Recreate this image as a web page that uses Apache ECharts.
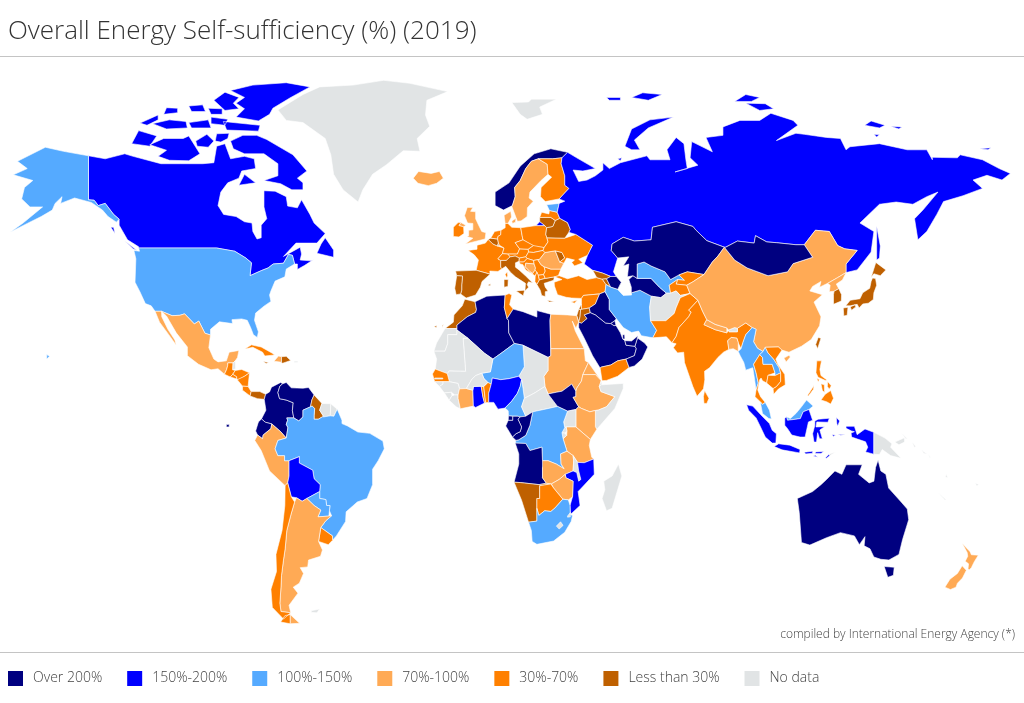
<!DOCTYPE html>
<html>
<head>
<meta charset="utf-8">
<title>Overall Energy Self-sufficiency</title>
<script src="https://cdn.jsdelivr.net/npm/echarts@6/dist/echarts.min.js"></script>
<style>
  html, body { margin: 0; padding: 0; background: #fff; }
  #chart { width: 1024px; height: 703px; }
</style>
</head>
<body>
<div id="chart"></div>
<script>
const legendLabels = ['Over 200%', '150%-200%', '100%-150%', '70%-100%', '30%-70%', 'Less than 30%', 'No data'];
const legendColors = ['#000080', '#0000ff', '#55aaff', '#ffaa55', '#ff8000', '#bf6000', '#e1e4e5'];

const over200 = ['Norway', 'Kazakhstan', 'Turkmenistan', 'Mongolia', 'Azerbaijan', 'Algeria', 'Libya', 'Iraq',
  'Saudi Arabia', 'Kuwait', 'Qatar', 'United Arab Emirates', 'Oman', 'South Sudan', 'Congo', 'Gabon',
  'Equatorial Guinea', 'Angola', 'Colombia', 'Venezuela', 'Ecuador', 'Australia'];
const from150to200 = ['Canada', 'Russia', 'Indonesia', 'Nigeria', 'Bolivia', 'Mozambique', 'Ghana'];
const from100to150 = ['United States', 'Brazil', 'Paraguay', 'Iran', 'Uzbekistan', 'Malaysia', 'Myanmar', 'Laos',
  'Niger', 'Cameroon', 'DR Congo', 'South Africa', 'Estonia'];
const from70to100 = ['China', 'Mexico', 'Peru', 'Argentina', 'Sweden', 'United Kingdom', 'Denmark', 'Romania',
  'Iceland', 'Bosnia', 'New Zealand', 'Egypt', 'Sudan', 'Eritrea', 'Ethiopia', 'Kenya', 'Tanzania', 'Ivory Coast',
  'Zambia', 'Zimbabwe', 'Haiti', 'Bangladesh', 'Nepal', 'North Korea'];
const from30to70 = ['Finland', 'France', 'Germany', 'Poland', 'Ukraine', 'Czechia', 'Austria', 'Hungary', 'Slovakia',
  'Slovenia', 'Netherlands', 'Ireland', 'Latvia', 'Serbia', 'Croatia', 'Bulgaria', 'Albania', 'North Macedonia',
  'Montenegro', 'Switzerland', 'Turkey', 'Syria', 'Tunisia', 'Yemen', 'India', 'Pakistan', 'Vietnam', 'Thailand',
  'Cambodia', 'Philippines', 'Sri Lanka', 'Kyrgyzstan', 'Tajikistan', 'Senegal', 'Togo', 'Benin', 'Botswana',
  'Chile', 'Uruguay', 'Cuba', 'Guatemala', 'Honduras', 'Nicaragua', 'Costa Rica', 'El Salvador', 'Cyprus'];
const under30 = ['Spain', 'Portugal', 'Italy', 'Belarus', 'Lithuania', 'Moldova', 'Belgium', 'Luxembourg', 'Greece',
  'Georgia', 'Armenia', 'Lebanon', 'Israel', 'Jordan', 'Morocco', 'Namibia', 'Japan', 'South Korea', 'Taiwan',
  'Guyana', 'Panama', 'Jamaica', 'Dominican Republic'];
const noData = ['Greenland', 'Svalbard', 'Afghanistan', 'Bhutan', 'Mauritania', 'Western Sahara', 'Mali', 'Burkina Faso',
  'Guinea', 'Guinea-Bissau', 'Gambia', 'Sierra Leone', 'Liberia', 'Chad', 'Central African Republic', 'Uganda',
  'Rwanda', 'Burundi', 'Somalia', 'Djibouti', 'Malawi', 'Madagascar', 'Lesotho', 'Eswatini', 'Papua New Guinea',
  'Solomon Islands', 'Fiji', 'Vanuatu', 'New Caledonia', 'Suriname', 'French Guiana', 'Belize', 'Puerto Rico',
  'Falkland Islands', 'Timor-Leste'];
const classLists = [over200, from150to200, from100to150, from70to100, from30to70, under30, noData];

// rough country outlines, lon,lat
const worldShapes = {
  'Canada': [
    '-141,69.6 -135,69 -128,70 -125,69.5 -115,68 -108,68 -100,68 -96,68.2 -95,71.5 -92,72 -90,69 -85,69.5 -81.5,69 -81,67 -86,66.5 -87,65 -91,64 -93.5,62 -94.5,59 -92.5,57 -88,56.5 -85,55.3 -82.3,55 -82,53 -80.5,51.2 -79,51.5 -79,54.5 -77,56 -78,58.7 -78,62.3 -74,62.2 -70,61 -69.5,58.9 -66,58.5 -64.5,60.3 -61.5,57 -60,55 -56,52.5 -59,50.2 -66.5,50.2 -71,46.9 -65,49.2 -64.5,47.5 -65,46 -61,45.8 -60,46.2 -63.5,44.6 -66,43.6 -66,45 -67,45 -67.8,47.2 -69.2,47.4 -71,45.2 -74.7,45 -76.5,44 -79,43.3 -83,42 -82.5,45.3 -84.5,46.5 -88.5,48.2 -95,49 -123,49 -123,49.3 -127,51 -130,54.5 -130,55.9 -132,57 -135,59.5 -137.5,59 -139,60.2 -141,60.3',
    '-64,62.5 -68,62.5 -72,63.8 -78,64.5 -73,65.5 -73,68 -78,70 -85,70 -89,71 -90,72.5 -85.6,73.6 -80.6,73.6 -77,72.8 -67.6,69.8 -62.6,66.5 -66,65 -64,64',
    '-119,71.8 -114,73 -107,73 -105,73.5 -101,70 -105,68.6 -112,68.7 -116,69.5 -113,70.7',
    '-125.5,72 -123,74.5 -116.5,73.5 -119,71.5',
    '-61.5,82.3 -70,83 -82,82.6 -90,81.7 -85,80.5 -88,79.5 -85,78.5 -88,77 -80,76.3 -76,77.5 -74.8,78.6 -68.7,80.4',
    '-96,80 -92,81.4 -87,80.5 -89,79.5 -87,78.5 -92,78.2',
    '-92.6,76.2 -79.4,75.5 -80,74.4 -91.4,74.6',
    '-118,75.8 -112,76.5 -106,76.2 -105.5,75 -113,74.8',
    '-105,76 -98,76.5 -97,75 -104,75',
    '-97,77 -91,76.6 -92,75.5 -97,75.8',
    '-105,79 -100,79.2 -99,78 -104,78',
    '-98,78.6 -93,78.5 -93,77.5 -97,77.5',
    '-113,78.7 -109,78.6 -109,77.8 -114,77.5',
    '-122.5,75.9 -116,77.4 -116,76.5 -120,75.5',
    '-102.5,72.5 -98.5,73.8 -96,72.5 -98,71.3 -102,71.5',
    '-95,73.9 -90.5,74 -91,73 -93.5,72.3 -95.5,72.5',
    '-87,63.5 -81,64 -85,65.8',
    '-59,47.7 -53,46.7 -53,48.5 -56,51.5 -57.5,50',
    '-128,50.7 -123.5,48.3 -125,48.8',
    '-133,54 -131.5,52.5 -132,54'
  ],
  'United States': [
    '-123,49 -95,49 -88.5,48.2 -84.5,46.5 -82.5,45.3 -83,42 -79,43.3 -76.5,44 -74.7,45 -71,45.2 -69.2,47.4 -67.8,47.2 -67,45 -70,43.7 -70.5,41.7 -74,40.6 -75.5,38 -76,36.9 -75.5,35.2 -78,33.9 -81,32 -81.4,30 -80,26.8 -80.4,25.2 -81.8,26 -82.8,28 -84,30 -86,30.4 -89.5,30.2 -89.3,29.1 -94,29.6 -97.2,27.5 -97.2,25.9 -99.2,26.4 -101.4,29.8 -103,29 -106.5,31.8 -108.2,31.4 -111,31.3 -114.8,32.5 -117.1,32.5 -118.5,34 -120.6,34.6 -122.5,37.7 -124.3,40.3 -124,46.3 -124.7,48.4 -122.7,48.2',
    '-141,69.6 -141,60.3 -139,60.2 -137.5,59 -135,59.5 -132,57 -130,55.9 -131,55.2 -134,56.5 -136,58 -140,59.7 -146,60.7 -151,59.5 -150.5,61 -153,59.5 -154,58 -158,56.5 -163,54.9 -169,52.9 -164.5,55 -157.5,58.7 -162,58.7 -165,60.5 -164,63 -161,64.5 -168,65.7 -163,67 -166.5,68.5 -156.5,71.3 -150,70.5',
    '-156,19 -155,19.8 -156,20.3'
  ],
  'Greenland': ['-73,78.3 -64,81 -58,82.3 -46,82.6 -35,83.4 -25.6,82.9 -12,81.5 -19.5,80 -20,77.4 -18.5,75.3 -23,73 -22,70.5 -28,70.6 -34,67.8 -39,65.8 -42.5,62.5 -44.2,59.8 -49.6,62.5 -53,65.8 -54,69.8 -56,73 -64,76 -70,76.4'],
  'Iceland': ['-24.4,65 -22.5,66.4 -18,66 -15,66.4 -13.6,65 -16,63.9 -19,63.4 -22.7,63.9'],
  'Svalbard': ['11,79.6 17,79.7 18,80.2 27,80.2 21,78.8 22,77.5 16.5,76.6 14,77.5'],
  'Mexico': [
    '-114.8,32.5 -111,31.3 -108.2,31.4 -106.5,31.8 -103,29 -101.4,29.8 -99.2,26.4 -97.2,25.9 -97.8,22.3 -96,19 -94.5,18.2 -91.5,18.5 -90.5,21 -87,21.5 -87.5,19.5 -88.3,18.5 -89.1,17.9 -91,17.9 -91,17.2 -91.4,16 -92.2,14.6 -94.5,16.2 -97,15.9 -101.5,17.5 -105.5,20 -105.5,22.5 -109.5,26.5 -113,31.2',
    '-117.1,32.5 -114.8,32.5 -114.7,31 -112.5,27.5 -110,24.5 -109.5,23 -112.2,26 -115.5,29.5'
  ],
  'Guatemala': ['-92.2,14.6 -91.4,16 -91,17.2 -91,17.9 -89.1,17.9 -89.2,15.9 -88.3,15.7 -89.2,14.6 -90.1,13.8'],
  'Belize': ['-89.1,17.9 -88.3,18.5 -88.2,16.2 -89.2,15.9'],
  'El Salvador': ['-90.1,13.8 -89.2,14.6 -87.8,13.9 -87.8,13.2'],
  'Honduras': ['-89.2,14.6 -88.3,15.7 -86,16 -83.2,15 -85,14 -87,13 -87.8,13.2 -87.8,13.9'],
  'Nicaragua': ['-87.6,13 -85,14 -83.2,15 -83.7,11 -85.7,11.1'],
  'Costa Rica': ['-85.7,11.1 -83.7,11 -82.6,9.5 -83,8.2 -85.7,9.9'],
  'Panama': ['-83,8.2 -82.6,9.5 -79.5,9.5 -77.4,8.7 -77.9,7.2 -80.3,7.4'],
  'Cuba': ['-84.9,21.9 -82.5,23.1 -79,22.5 -75,20.7 -74.2,20.2 -77.7,19.9 -78.5,21 -82,22.4'],
  'Jamaica': ['-78.3,18.3 -76.3,18 -77.2,17.7'],
  'Haiti': ['-74.4,18.4 -72.8,19.9 -71.7,19.7 -71.7,18.1'],
  'Dominican Republic': ['-71.7,19.7 -70,19.8 -68.4,18.6 -71.3,17.8 -71.7,18.1'],
  'Puerto Rico': ['-67.2,18.4 -65.7,18.4 -66,18 -67.2,18'],
  'Colombia': ['-77.4,8.7 -76,9.4 -75.3,10.8 -72,12.2 -71.3,11.8 -72.3,11.1 -73,9.2 -72.4,7.4 -70,7 -67.5,6.2 -67.8,3.9 -67.3,1.7 -69.8,1.7 -69.5,1 -70,-0.2 -69.4,-1.2 -70,-4.3 -72,-2.4 -75.2,-0.1 -77.5,0.4 -78.9,1.4 -77.3,4 -77.9,7.2'],
  'Venezuela': ['-71.3,11.8 -70,12.2 -68.2,10.6 -64,10.5 -62,10.7 -60,8.5 -60.8,7 -61.3,5 -60.7,5.2 -64,4 -64,2 -65.5,0.8 -67.3,1.7 -67.8,3.9 -67.5,6.2 -70,7 -72.4,7.4 -73,9.2 -72.3,11.1'],
  'Guyana': ['-60,8.5 -57.2,6 -58,4 -56.5,2 -57,2 -58.5,1.3 -60,1.3 -60,2.5 -59.8,4.5 -60.7,5.2 -61.3,5 -60.8,7'],
  'Suriname': ['-57.2,6 -54,5.9 -54.2,2.3 -56.5,2 -58,4'],
  'French Guiana': ['-54,5.9 -51.7,4.3 -52.9,2.2 -54.2,2.3'],
  'Ecuador': ['-78.9,1.4 -77.5,0.4 -75.2,-0.1 -75.5,-1.5 -78.3,-3.4 -78.5,-4.5 -80.3,-3.4 -81,-2.2 -80,0.5', '-91.5,-0.3 -90.5,-0.2 -90.5,-1 -91.5,-1'],
  'Peru': ['-80.3,-3.4 -78.5,-4.5 -78.3,-3.4 -75.5,-1.5 -75.2,-0.1 -72,-2.4 -70,-4.3 -73,-5 -74,-7.5 -73,-9.5 -70.6,-9.5 -70.6,-11 -69,-11 -69,-15.5 -69.5,-17.5 -70.4,-18.3 -76,-14 -79,-8 -81.3,-5'],
  'Brazil': ['-51.7,4.3 -50,1 -50,0 -48,-0.7 -44.3,-2.5 -40,-2.9 -35.3,-5.2 -34.8,-7.5 -37,-11 -39,-13.5 -39,-18 -41,-22 -44.5,-23 -48.5,-25.8 -48.7,-28.5 -52,-32.5 -53.4,-33.7 -53.4,-32.5 -57.6,-30.2 -55.8,-28.3 -53.7,-26.9 -54.5,-25.5 -54.3,-24 -55.5,-24 -55.8,-22.3 -58,-22 -58,-20 -57.8,-18 -60,-16.3 -60.5,-13.8 -65.3,-11.7 -65.3,-9.8 -69,-11 -70.6,-11 -70.6,-9.5 -73,-9.5 -74,-7.5 -73,-5 -70,-4.3 -69.4,-1.2 -70,-0.2 -69.5,1 -69.8,1.7 -67.3,1.7 -65.5,0.8 -64,2 -64,4 -60.7,5.2 -59.8,4.5 -60,2.5 -60,1.3 -58.5,1.3 -57,2 -56.5,2 -54.2,2.3 -52.9,2.2'],
  'Bolivia': ['-69,-11 -65.3,-9.8 -65.3,-11.7 -60.5,-13.8 -60,-16.3 -57.8,-18 -58,-20 -62.6,-22 -64.3,-22.8 -66.3,-21.8 -68.2,-21.5 -69.5,-17.5 -69,-15.5'],
  'Paraguay': ['-58,-20 -58,-22 -55.8,-22.3 -55.5,-24 -54.3,-24 -54.5,-25.5 -54.7,-27 -58.6,-27.2 -57.6,-25.3 -60,-24 -62.6,-22'],
  'Uruguay': ['-57.6,-30.2 -53.4,-32.5 -53.4,-33.7 -54.9,-34.9 -58.4,-34'],
  'Argentina': [
    '-66.3,-21.8 -64.3,-22.8 -62.6,-22 -60,-24 -57.6,-25.3 -58.6,-27.2 -54.7,-27 -53.7,-26.9 -55.8,-28.3 -57.6,-30.2 -58.4,-34 -57,-36.3 -57.7,-38 -62,-39 -62.3,-40.8 -65,-41 -63.8,-42.5 -65.3,-45 -67.5,-46 -65.8,-47.5 -69,-50.5 -68.4,-52.3 -71.9,-52 -72.3,-50 -71.9,-46 -71.7,-43 -71,-39 -70.4,-36 -69.8,-31 -68.3,-26.5 -67,-23',
    '-68.6,-52.7 -65.2,-54.8 -68.6,-54.9'
  ],
  'Chile': [
    '-70.4,-18.3 -69.5,-17.5 -68.2,-21.5 -67,-23 -68.3,-26.5 -69.8,-31 -70.4,-36 -71,-39 -71.7,-43 -71.9,-46 -72.3,-50 -71.9,-52 -68.4,-52.3 -71,-53.8 -75,-51 -75.5,-46.5 -73.5,-42 -73.7,-37.5 -71.5,-31 -70.5,-24',
    '-70.5,-53 -68.6,-52.7 -68.6,-54.9 -72,-54.5'
  ],
  'Falkland Islands': ['-61,-51.8 -58,-51.4 -59,-52.3 -61,-52.2'],
  'Norway': ['5,59 5,62 10,64 14,67.5 19,70 25,71 31,70.3 29,69.2 25.7,69 20.5,69 18,68.5 16,67 14,64.5 12,63 12.2,61 11.2,59 8,58'],
  'Sweden': ['11.2,59 12.2,61 12,63 14,64.5 16,67 18,68.5 20.5,69 23.7,67.9 24,65.8 21.5,64.5 17.5,62 17.2,60.7 18.7,60 16.6,58.5 16.5,56.5 14.3,55.5 13,55.4 11,58.8'],
  'Finland': ['20.5,69 25.7,69 29,69.2 28.7,68 30,65.5 30,63.5 31.5,62.8 28,60.5 23,59.9 21.3,61 21.5,63 25.3,65.2 24,65.8 23.7,67.9'],
  'Denmark': ['8.6,54.9 8.2,56.8 10.6,57.7 10.9,56.4 9.6,54.9', '11,55.5 12.5,56.1 12.3,55.2 11.2,54.9'],
  'United Kingdom': ['-5.7,50 1.4,51.2 1.7,52.7 0.2,53 -1,54.6 -2,56 -2,57.6 -3.8,57.7 -3,58.6 -5,58.6 -6,56.7 -4.9,55 -3,54.9 -3,53.4 -4.5,53.3 -4.5,52 -5.2,51.8 -3,51.4', '-7.3,55.1 -5.5,54.5 -6.3,54.1 -8,54.4'],
  'Ireland': ['-8,54.4 -6.3,54.1 -6.2,52.5 -8,51.7 -10,51.8 -10,54 -8.3,55.1 -7.3,55.1'],
  'France': ['-4.7,48.4 -1.5,48.7 -1.5,49.7 1.5,50.2 2.5,51.1 4.2,50 5.8,49.5 8.2,49 7.6,47.6 6,46.3 7,45.9 7,44.2 7.5,43.8 6,43.1 3.1,43.2 3.2,42.4 -1.8,43.4 -1,46 -2.5,47.3', '8.6,42.3 9.4,43 9.5,42 9.2,41.4'],
  'Belgium': ['2.5,51.1 3.4,51.4 5.9,51.2 6.2,50.2 5.8,49.5 4.2,50'],
  'Luxembourg': ['5.8,49.5 6.2,50.2 6.5,49.7'],
  'Netherlands': ['3.4,51.4 4.8,53 7.1,53.3 7,52.2 6,51.8 5.9,51.2'],
  'Germany': ['7.1,53.3 8.6,53.9 8.6,54.9 9.6,54.9 11,54 14.2,53.9 14.7,52 15,51 12.2,50.3 13.8,48.8 13,47.5 9.6,47.5 7.6,47.6 8.2,49 6.5,49.7 6.2,50.2 5.9,51.2 6,51.8 7,52.2'],
  'Switzerland': ['7.6,47.6 9.6,47.5 10.4,46.8 9,45.9 7,45.9 6,46.3'],
  'Austria': ['9.6,47.5 13,47.5 13.8,48.8 16.9,48.7 17,48 16,46.8 13.7,46.5 12.2,47 10.4,46.8'],
  'Italy': ['7,45.9 9,45.9 10.4,46.8 12.2,47 13.7,46.5 13.6,45.7 12.3,45.3 12.3,44.2 13.6,43.5 16,41.9 18.5,40.1 17,40.4 16.5,39.7 17,39 15.7,38 15.9,40 12.3,41.7 10.5,42.9 8.8,44.4 7.5,43.8 7,44.2', '12.5,38 15.6,38.2 15.1,36.7', '8.2,39 8.2,41 9.7,41 9.6,39.2'],
  'Spain': ['-9.2,43.2 -1.8,43.4 3.2,42.4 0.3,40.5 -0.3,39 -2,36.9 -5.4,36.1 -7.4,37.2 -7,38.2 -7,39.6 -6.7,41.9 -8.8,42', '2.4,39.6 3.4,39.9 3.2,39.3', '-17,28.2 -16,28.6 -16,28', '-14,28.5 -13.5,29 -14,28'],
  'Portugal': ['-8.8,42 -6.7,41.9 -7,39.6 -7,38.2 -7.4,37.2 -9,37 -9.5,38.7'],
  'Poland': ['14.2,53.9 19.7,54.4 22.8,54.4 23.5,53.9 23.2,52.3 23.6,51.5 24,50.5 22.6,49.1 19,49.4 15,51 14.7,52'],
  'Czechia': ['12.2,50.3 15,51 18.8,49.6 16.9,48.7 13.8,48.8'],
  'Slovakia': ['16.9,48.7 18.8,49.6 19,49.4 22.6,49.1 22.2,48.4 18.8,47.9 17,48'],
  'Hungary': ['16,46.8 17,48 18.8,47.9 22.2,48.4 22.9,47.9 21,46.2 18.8,45.9 16.5,46.4'],
  'Slovenia': ['13.7,46.5 16,46.8 16.5,46.4 15.3,45.5 13.6,45.5'],
  'Croatia': ['13.6,45.5 15.3,45.5 16.5,46.4 18.8,45.9 19,45 16,45.2 15.8,44.3 17.6,43 18.5,42.4 16,43.5 14.9,44.9 14,45'],
  'Bosnia': ['16,45.2 19,45 19.5,44 19.3,43.4 18.5,42.6 17.6,43 15.8,44.3'],
  'Serbia': ['19,45 18.8,45.9 20.3,46.1 21.5,44.8 22.6,44.3 23,43.2 22.4,42.3 20.5,42.1 20,42.9 19.3,43.4 19.5,44'],
  'Montenegro': ['18.5,42.6 19.3,43.4 20,42.9 19.4,41.9 18.5,42.4'],
  'Albania': ['19.4,41.9 20,42.9 20.5,42.1 20.9,40.9 20,39.7 19.3,40.5'],
  'North Macedonia': ['20.5,42.1 22.4,42.3 23,41.3 20.9,40.9'],
  'Greece': ['20,39.7 20.9,40.9 23,41.3 26.3,41.7 26,40.8 23.5,40.2 22.6,40 23,39 24,38 23,37.8 23,36.5 21.7,36.8 21.2,38.2', '23.6,35.5 26.3,35.2 24.5,35'],
  'Bulgaria': ['22.6,44.3 25,43.7 28.6,43.7 27.7,42 26.3,41.7 23,41.3 22.4,42.3 23,43.2'],
  'Romania': ['20.3,46.1 21,46.2 22.9,47.9 26.6,48.3 28.2,45.5 29.7,45.2 28.6,43.7 25,43.7 22.6,44.3 21.5,44.8'],
  'Moldova': ['26.6,48.3 29,47.9 30,46.5 28.2,45.5'],
  'Ukraine': ['22.6,49.1 24,50.5 23.6,51.5 30,51.4 34,52.3 40,49.7 38.2,47.2 35,46.2 36.5,45.3 33.5,44.5 32.5,45.4 33.5,46 30.7,46.5 29.7,45.2 28.2,45.5 30,46.5 29,47.9 26.6,48.3 22.9,47.9 22.2,48.4'],
  'Belarus': ['23.2,52.3 23.5,53.9 25.7,54.2 26.6,55.6 28.2,56.1 31,55.1 32,53.5 31.5,52.8 30,51.4 23.6,51.5'],
  'Lithuania': ['21,55.3 21,56.3 25,56.3 26.6,55.6 25.7,54.2 23.5,53.9 22.8,54.4'],
  'Latvia': ['21,56.3 21.7,57.5 24.3,57.1 24.5,57.9 27.3,57.5 28.2,56.1 26.6,55.6 25,56.3'],
  'Estonia': ['24.5,57.9 23.5,59.2 28,59.5 27.3,57.5'],
  'Russia': [
    '31,70.3 34.3,69.2 41,67 36.5,66.5 33,66.7 35,64.3 38,64.6 41,65.5 43.7,66.7 43.7,68.2 46,67 50,68.2 59.5,69.6 60.6,68.8 67.8,68.8 66.7,70.8 70,73.2 72.8,72 73.5,68.8 74,67 69.6,66.3 77.8,67.7 75,69.2 75.6,72.4 83,70.4 80.7,73.2 86.8,73.6 86.8,75.2 92.9,76.4 100,76.4 104,77.7 112,76.4 113.7,75.5 106,72.6 113,74 116,73.8 124,73.2 129,73 131,70.8 132.4,71.4 143,72 153,70.8 160,70.8 162,68.8 162,69.3 171,69.2 172,69.8 180,68.8 186,67 190,66 187,64.6 181.6,65.6 176.6,64.6 180,62.8 173,61.2 166,59.9 163.6,57 160,53 156.8,51 155.6,56 158.6,58 164,62 160,61 155,59.3 149,59.8 143,59.3 136,55 141,53 140,48 135,43.5 131,42.8 131,45 135,48.4 130.5,48.8 128,49.6 125,53 120,53.3 116,49.8 113,49.8 106,50.3 102.5,50.5 98.5,52 98,50.2 92,50.7 87.8,49.2 87.3,49.2 81,50.8 77,53.4 76,54.2 70,55.3 61.5,54 61,51 55,50.7 51,51.6 47,50 46.7,48.4 49,46.5 47.5,43 48.5,41.8 46.5,41.8 43.5,42.7 40,43.4 37,45 38.2,47.2 40,49.7 34,52.3 31.5,52.8 32,53.5 31,55.1 28.2,56.1 27.3,57.5 28,59.5 30,60 28,60.5 31.5,62.8 30,63.5 30,65.5 28.7,68 29,69.2',
    '19.7,54.4 21,55.3 22.8,54.4',
    '142,54.3 143.3,49.5 143,46.5 142,46 142,50',
    '69,77 60.6,76.5 54,74.8 51.6,71.5 54,70.8 57,70.8 55,72.7 60,75',
    '91,79.8 95,81 100,80.5 97,79.8',
    '95,79.5 102,79.4 105,78.5 100,78.2',
    '137.7,75.5 140,76.3 145,75.5 143,75',
    '147,75.3 151,75.2 150,74.8',
    '141,73.8 143,73.7 142,73.3',
    '179,71 183,71.2 182,70.8',
    '45,80.5 50,80.5 50,80 46,80',
    '54,80.5 58,81.3 65,81 60,80',
    '49,69 50.5,69.2 50,68.6'
  ],
  'Turkey': ['26.3,41.7 28,42 31,41.2 35,42 38,41 41.5,41.5 43.5,41.1 44.8,39.7 44.5,37.8 42.5,37.2 36.7,36.8 36,36 32.5,36.1 30.5,36.3 27.4,37 26.3,39.3 26.2,40.3 29,41'],
  'Georgia': ['40,43.4 43.5,42.7 46.5,41.8 45,41.2 43.5,41.1 41.5,41.5'],
  'Armenia': ['43.5,41.1 45,41.2 46.5,39 44.8,39.7'],
  'Azerbaijan': ['45,41.2 46.5,41.8 48.5,41.8 50.3,40.3 49,38.4 46.5,39'],
  'Cyprus': ['32.3,35 34.5,35.6 33.5,34.7'],
  'Syria': ['36,36 36.7,36.8 42.5,37.2 41,34.5 38.8,33.4 36,33 36,34.5'],
  'Lebanon': ['35,33 36,34.5 36,33'],
  'Israel': ['34.3,31.3 35,33 35.7,33 35.5,31 35,29.5'],
  'Jordan': ['35,29.5 35.5,31 35.7,33 36,33 38.8,33.4 39.2,32.1 37,31.5 38,30.5 36,29.2'],
  'Iraq': ['38.8,33.4 41,34.5 42.5,37.2 44.5,37.8 46,35.7 46,33 48.5,30.5 48,29.9 46.5,29.1 44.7,29.2 41,31.5 39.2,32.1'],
  'Kuwait': ['46.5,29.1 48,29.9 48.4,28.6 47.7,28.5'],
  'Saudi Arabia': ['35,29.5 36,29.2 38,30.5 37,31.5 39.2,32.1 41,31.5 44.7,29.2 46.5,29.1 47.7,28.5 48.4,28.6 50,26.5 50.8,24.8 51.6,24.3 52,23 55.2,22.7 55.7,22 55,20 52,19 49,18.5 46.5,17.3 43.2,16.7 42.7,16.4 40,20 39,21.7 37,25 35,28'],
  'Yemen': ['42.7,16.4 43.2,16.7 46.5,17.3 49,18.5 52,19 53.1,16.6 49,14 45,12.8 43.4,12.7'],
  'Oman': ['52,19 55,20 55.7,22 55.2,22.7 56,24.8 56.4,24.9 58.7,23.6 59.8,22.5 57.8,19 55,17 53.1,16.6'],
  'United Arab Emirates': ['51.6,24.3 52,23 55.2,22.7 56,24.8 56.3,25.7 54,24.2'],
  'Qatar': ['50.8,24.8 50.8,26 51.5,26 51.6,24.8'],
  'Iran': ['44.8,39.7 46.5,39 49,38.4 51,36.8 54,36.9 53.9,37.5 57,38.2 61.1,36.6 60.5,33.7 60.8,29.9 63,27.2 61.6,25.1 57.5,25.7 56.5,27 54,26.6 51,28 48.5,30.5 46,33 46,35.7 44.5,37.8'],
  'Turkmenistan': ['53.9,37.5 57,38.2 61.1,36.6 64.5,36.2 66.5,37.4 64,39 61,41.3 57,41.3 56,41.3 54.5,42 53,41 53.9,39'],
  'Uzbekistan': ['56,45 56,41.3 57,41.3 61,41.3 64,39 66.5,37.4 68,37.4 67.5,39.5 70.5,41 73,40.8 71,42.2 68,41 66,43 61,44.5 58.5,45.5'],
  'Kazakhstan': ['46.7,48.4 47,50 51,51.6 55,50.7 61,51 61.5,54 70,55.3 76,54.2 77,53.4 81,50.8 87.3,49.2 85,47 83,45.5 80,42.3 74,43 71,42.2 68,41 66,43 61,44.5 58.5,45.5 56,45 56,41.3 54.5,42 52.5,41.7 53,45 51,44.5 53,46.8 49,46.5'],
  'Kyrgyzstan': ['71,42.2 74,43 80,42.3 76,40.4 73.8,39.5 70,39.8 70.5,41 73,40.8'],
  'Tajikistan': ['67.5,39.5 70.5,41 70,39.8 73.8,39.5 75,37.3 71.5,36.8 70,38 68,37.4'],
  'Afghanistan': ['61.1,36.6 64.5,36.2 66.5,37.4 68,37.4 70,38 71.5,36.8 75,37.3 71.5,36.2 70,33.5 69.3,31.9 66.3,29.9 60.8,29.9 60.5,33.7'],
  'Pakistan': ['60.8,29.9 66.3,29.9 69.3,31.9 70,33.5 71.5,36.2 75,37.3 77.8,35.5 74.5,32.8 75.4,32.3 74.5,31 71,28 70,25.5 68.5,23.7 66.5,25.4 61.6,25.1 63,27.2'],
  'India': ['77.8,35.5 79.5,32.5 81,30.2 80,28.8 84,27.4 88.2,26.5 88.8,27.3 89,26.8 92,26.8 92,27.8 95,29.3 97.3,28 95,26 94,23.8 93.3,22 92.3,23.7 91.8,25 89.8,25.2 88.5,24.3 88.9,21.8 87,21 85,19.5 82,16.5 80.2,15.5 80.3,13 79.8,10.3 77.5,8.1 76,11 73,18 72.7,21 70.5,20.8 69,22.3 70,23.4 68.5,23.7 70,25.5 71,28 74.5,31 75.4,32.3 74.5,32.8'],
  'Nepal': ['80,28.8 81,30.2 84,28.9 88.2,27.9 88.2,26.5 84,27.4'],
  'Bhutan': ['88.8,27.3 91,28 92,27.8 92,26.8 89,26.8'],
  'Bangladesh': ['88.5,24.3 89.8,25.2 91.8,25 92.3,23.7 92.3,21.2 90.5,22 88.9,21.8'],
  'Sri Lanka': ['79.8,8 80.2,9.8 81.8,7.5 81,6 80,6'],
  'China': ['73.8,39.5 76,40.4 80,42.3 83,45.5 85,47 87.3,49.2 91,46 95.5,44 103,42 110,43 112,45.1 119,46.7 116,49.8 120,53.3 125,53 128,49.6 130.5,48.8 135,48.4 131,45 131,42.8 128,41.5 124.4,40 121.5,39 122,40.5 119,39.2 118,38 122.5,37 119.5,35 122,31 121.5,28.5 118.5,24.6 115,22.7 110.5,21 108,21.6 106.7,22.5 102,22.4 101.2,21.2 99.2,22.1 97.8,24 98.7,27.5 97.3,28 95,29.3 92,27.8 91,28 88.8,27.3 88.2,27.9 84,28.9 81,30.2 79.5,32.5 77.8,35.5 75,37.3', '108.7,19.3 110.5,20.1 111,19.6 109.5,18.2'],
  'Mongolia': ['87.8,49.2 92,50.7 98,50.2 98.5,52 102.5,50.5 106,50.3 113,49.8 116,49.8 119,46.7 112,45.1 110,43 103,42 95.5,44 91,46 87.3,49.2'],
  'Morocco': ['-5.9,35.8 -2.2,35.1 -1.7,33 -2,32.2 -5,31 -8.7,28.7 -8.7,27.7 -13,27.7 -10,29.5 -9.8,31.5 -6.8,34'],
  'Western Sahara': ['-8.7,27.7 -8.7,26 -12,26 -12,23.5 -13,21.3 -17,21.3 -16,23.7 -13,27.7'],
  'Algeria': ['-2.2,35.1 2,36.6 8.6,36.9 8.3,33.5 9.3,30.5 9.8,30 9.9,26.5 11.9,23.5 7.5,20.9 4.2,19 1.2,20.7 -4.8,25 -8.7,27.3 -8.7,28.7 -5,31 -2,32.2 -1.7,33'],
  'Tunisia': ['8.6,36.9 10,37.3 11,36.9 10.2,34.3 11.5,33.1 9.3,30.5 8.3,33.5'],
  'Libya': ['11.5,33.1 15,32.4 20,30.9 20,32.7 25,31.7 24.7,30 25,20 24,19.5 15,23 11.9,23.5 9.9,26.5 9.8,30 9.3,30.5'],
  'Egypt': ['25,31.7 31,31.5 34.3,31.3 35,29.5 34,27.8 32.7,29.8 33.8,27 37,22 25,22 24.7,30'],
  'Sudan': ['25,22 37,22 37.4,18.5 38.5,18 36.5,14.5 36,12.6 34.3,10.5 34,9.6 32.5,11.7 29,9.6 27,9.3 24,8.8 22.9,11 22.5,14 24,15.7 24,19.5 25,20'],
  'Chad': ['15,23 24,19.5 24,15.7 22.5,14 22.9,11 19,9 15.5,7.5 15,10.5 14.5,13 13.5,14 15.5,16.8'],
  'Niger': ['4.2,19 7.5,20.9 11.9,23.5 15,23 15.5,16.8 13.5,14 10,13.3 7,13 4,13.5 3.6,11.7 2.4,12.2 1,13.3 0.2,14.9 3.3,15.3'],
  'Mali': ['-4.8,25 1.2,20.7 4.2,19 3.3,15.3 0.2,14.9 -2,14.2 -3.3,13.2 -5.3,10.4 -7.8,10.3 -8.3,11.9 -11.4,12.4 -12.2,14.8 -11.5,15.6 -5.6,15.5 -6.5,25'],
  'Mauritania': ['-8.7,27.3 -4.8,25 -6.5,25 -5.6,15.5 -11.5,15.6 -12.2,14.8 -16.5,16.1 -16,19 -17,21.3 -13,21.3 -12,23.5 -12,26 -8.7,26'],
  'Senegal': ['-16.5,16.1 -12.2,14.8 -11.4,12.4 -16.7,12.4 -17.5,14.7'],
  'Gambia': ['-16.7,13.5 -13.8,13.5 -13.8,13.2 -16.7,13.2'],
  'Guinea-Bissau': ['-16.7,12.4 -13.7,12.4 -13.7,11.7 -15,11'],
  'Guinea': ['-13.7,12.4 -11.4,12.4 -8.3,11.9 -7.8,10.3 -8.3,8.5 -9.5,8.5 -10.7,9.3 -13.2,9.1 -15,11 -13.7,11.7'],
  'Sierra Leone': ['-13.2,9.1 -10.7,9.3 -10.5,8.3 -11.5,6.9'],
  'Liberia': ['-11.5,6.9 -10.5,8.3 -9.5,8.5 -8.3,8.5 -8.3,7.5 -7.5,4.4 -9,5'],
  'Ivory Coast': ['-8.3,8.5 -7.8,10.3 -5.3,10.4 -3,9.9 -2.8,5.2 -7.5,4.4 -8.3,7.5'],
  'Ghana': ['-3,9.9 -2.8,11 0,11.1 0.6,8 1.2,6.1 -2,4.8 -2.8,5.2'],
  'Togo': ['0,11.1 0.9,11 1.6,6.2 1.2,6.1 0.6,8'],
  'Benin': ['0.9,11 2.4,12.2 3.6,11.7 2.7,9 2.7,6.3 1.6,6.2'],
  'Burkina Faso': ['-5.3,10.4 -3.3,13.2 -2,14.2 0.2,14.9 1,13.3 2.4,12.2 0.9,11 0,11.1 -2.8,11 -3,9.9'],
  'Nigeria': ['2.7,6.3 2.7,9 3.6,11.7 4,13.5 7,13 10,13.3 13.5,14 14.5,13 14,11 13,9 11,6.7 8.5,4.6 6,4.3 4.5,6.3'],
  'Cameroon': ['8.5,4.6 11,6.7 13,9 14,11 14.5,13 15,10.5 15.5,7.5 14.5,5 16,2.2 14,2 13,2.2 11.3,2.2 9.8,2.3 9.7,3.8'],
  'Central African Republic': ['15.5,7.5 19,9 22.9,11 24,8.8 27.4,5.1 22.5,4.2 19,3.6 18.5,3.5 16,2.2 14.5,5'],
  'South Sudan': ['24,8.8 27,9.3 29,9.6 32.5,11.7 34,9.6 34,8 33,7.8 35,5 34,4.2 31,3.7 27.4,5.1'],
  'Eritrea': ['38.5,18 43.1,12.7 41,14.5 38,14.5 36.5,14.5'],
  'Ethiopia': ['36.5,14.5 38,14.5 41,14.5 43.1,12.7 42.4,11 43,9.5 48,8 45,5 42,4 41,3.9 39,3.5 36,4.5 35,5 33,7.8 34,8 34,9.6 34.3,10.5 36,12.6'],
  'Djibouti': ['42.4,11 43.1,12.7 43.4,11.5'],
  'Somalia': ['43.2,11.5 51,11.9 51,10.4 48,4.5 41.5,-1.7 41,-0.9 41,3.9 42,4 45,5 48,8 43,9.5 42.4,11'],
  'Kenya': ['34,4.2 35,5 36,4.5 39,3.5 41,3.9 41,-0.9 41.5,-1.7 39.2,-4.7 34,-1 34,0.5'],
  'Uganda': ['31,3.7 34,4.2 34,0.5 34,-1 30.5,-1 30,-1.2 29.6,0.5'],
  'Tanzania': ['34,-1 39.2,-4.7 38.8,-6.5 39.7,-10 40.4,-10.5 37,-11.6 34.6,-11.5 33,-9.5 30.8,-8.2 29.4,-4.5 30.7,-3.5 30.8,-2.3 30.5,-1'],
  'Rwanda': ['29,-2.7 30,-1.2 30.5,-1 30.8,-2.3 29.9,-2.8'],
  'Burundi': ['29,-2.7 29.9,-2.8 30.7,-3.5 29.4,-4.5'],
  'DR Congo': ['12.2,-5.8 12.5,-5 13.5,-4.8 16,-3.5 17.5,-0.5 18.5,3.5 19,3.6 22.5,4.2 27.4,5.1 31,3.7 29.6,0.5 30,-1.2 29,-2.7 29.4,-4.5 30.8,-8.2 28.5,-9 28.7,-12 29.8,-13.4 27,-12 24,-11 22,-11 21.8,-7 17.5,-8 16,-5.9'],
  'Congo': ['11.2,-4 12.5,-3 14,-2.4 14.5,-1 13.2,1.3 14,2 16,2.2 18.5,3.5 17.5,-0.5 16,-3.5 13.5,-4.8 12.5,-5'],
  'Gabon': ['8.8,-0.7 9.7,1 11.3,1 11.3,2.2 13,2.2 14,2 13.2,1.3 14.5,-1 14,-2.4 12.5,-3 11.2,-4'],
  'Equatorial Guinea': ['9.8,2.3 11.3,2.2 11.3,1 9.7,1'],
  'Angola': ['12.2,-5.8 16,-5.9 17.5,-8 21.8,-7 22,-11 24,-11 22,-13 22,-16 23.4,-17.6 20.8,-18 14,-17.4 11.8,-17.3 13.5,-12 13.5,-9'],
  'Namibia': ['11.8,-17.3 14,-17.4 20.8,-18 23.4,-17.6 25,-17.8 21,-18.3 21,-22 20,-22 20,-28.4 17,-28.7 14.5,-22.5'],
  'Zambia': ['22,-11 24,-11 27,-12 29.8,-13.4 28.7,-12 28.5,-9 30.8,-8.2 33,-9.5 33.2,-11 33,-14 30.2,-15 28,-16.5 25.2,-17.8 23.4,-17.6 22,-16 22,-13'],
  'Malawi': ['33,-9.5 34.6,-11.5 35,-14 35.8,-16.5 35,-17 34.3,-14.5 33,-14 33.2,-11'],
  'Mozambique': ['40.4,-10.5 40.6,-15 36,-19 34.8,-20 35.5,-24 32.8,-26 32,-26.5 31.9,-24 32.8,-21.5 33,-17 30.4,-16 30.2,-15 33,-14 34.3,-14.5 35,-17 35.8,-16.5 35,-14 34.6,-11.5 37,-11.6'],
  'Zimbabwe': ['25.2,-17.8 28,-16.5 30.2,-15 30.4,-16 33,-17 32.8,-21.5 31.3,-22.4 29.3,-22.2 26,-19'],
  'Botswana': ['20,-22 21,-22 21,-18.3 25,-17.8 25.2,-17.8 26,-19 29.3,-22.2 26.5,-24.7 25,-25.7 22.8,-25.5 20.7,-26.8 20,-24.8'],
  'South Africa': ['17,-28.7 20,-28.4 20,-24.8 20.7,-26.8 22.8,-25.5 25,-25.7 26.5,-24.7 29.3,-22.2 31.3,-22.4 31.9,-24 32,-26.5 32.8,-26.9 32.3,-28.5 30,-31.5 26,-33.9 20,-34.8 18.3,-34 18,-31'],
  'Lesotho': ['27,-29.8 28.5,-28.6 29.4,-29.6 28,-30.6'],
  'Eswatini': ['31,-27 32,-26 32,-27.2 31,-27.3'],
  'Madagascar': ['49.3,-12 50.5,-15.5 47,-24.8 45,-25.5 43.4,-22 44.4,-19.5 44,-17 47,-15.5'],
  'Myanmar': ['92.3,21.2 93.3,22 94,23.8 95,26 97.3,28 98.7,27.5 97.8,24 99.2,22.1 101.2,21.2 100,20.3 97.8,17.5 98.7,15 99.5,12 98.7,10 98,14 97.5,16.5 95,15.8 94.3,18 93,20'],
  'Thailand': ['100,20.3 101,19.5 101.2,17.5 104.5,17.5 105.5,15 103,14.3 102.5,12 101,12.7 100.5,13.5 100,13 99.3,10 100.3,8 102,6.3 101,5.7 100.2,6.5 98.3,8 98.7,10 99.5,12 98.7,15 97.8,17.5'],
  'Laos': ['101.2,21.2 102,22.4 103,20.8 105,19 107,16.5 107.5,15 105.5,14.2 105.5,15 104.5,17.5 101.2,17.5 101,19.5 100,20.3'],
  'Vietnam': ['102,22.4 106.7,22.5 108,21.6 105.8,19 106.5,17.5 109,14.5 109.2,11.5 106.8,10.3 105,8.7 104.8,10.4 106,11 107.5,12.5 107.5,15 107,16.5 105,19 103,20.8'],
  'Cambodia': ['102.5,12 103,14.3 105.5,14.2 107.5,15 107.5,12.5 106,11 104.8,10.4'],
  'Malaysia': ['100.2,6.5 101,5.7 102,6.3 103.5,4 104.2,1.4 103.3,1.5 101,3', '109.6,2 111,1.5 113,3 115,5 116.8,7 119.2,5.2 117.7,4.2 115.6,3.5 114.6,1.5 113,1.3 110,1'],
  'Indonesia': [
    '109,1.5 109.6,2 110,1 113,1.3 114.6,1.5 115.6,3.5 117.7,4.2 119,1 117.5,0.5 116.3,-4 114.5,-4 111.5,-3.4 110,-1.5 109,-0.5',
    '95.3,5.6 97.5,5.2 100.3,2.7 103.5,0 104.5,-2 106,-3 105.8,-5.8 104.5,-5.8 102,-4 100.3,-1 98.7,1.7 96,4',
    '105.2,-6.8 106.8,-6 110.8,-6.4 114.5,-7.7 114.3,-8.7 108,-7.8',
    '116,-8.5 119,-8.2 119,-8.8 116.5,-9',
    '120,-8.4 123,-8.3 122,-8.9 120,-8.9',
    '123.6,-10.2 125,-9 125.2,-9.5 124,-10.3',
    '119.2,-9.6 120.8,-10 120,-9.4',
    '119.8,0.8 121,1.3 125,1.6 124.5,0.4 120.5,0.5 120.2,-1 123.3,-0.9 121.6,-1.9 122.5,-4.5 121.5,-4.5 120.8,-2.7 120.4,-5.5 119.5,-5.5 119,-3 119.8,-0.5',
    '127.5,1.8 128.7,0.8 128,-0.8 127.7,0',
    '128,-3.2 130.8,-3.3 129,-3.5',
    '126,-3.3 127.2,-3.4 126.5,-3.8',
    '131,-0.8 134,-0.8 135,-3.3 137.8,-1.6 141,-2.6 141,-9.1 138,-8.4 138.8,-7 138,-5.4 133,-4 132.8,-2.8 134,-2.4 133,-2.2 131,-1.4'
  ],
  'Timor-Leste': ['125,-9 127.3,-8.4 125.2,-9.5'],
  'Papua New Guinea': ['141,-2.6 145,-4.3 147.5,-6 147,-7 150.8,-10.3 147,-9.5 144,-7.7 143,-9.2 141,-9.1', '148.5,-5.5 152,-4.2 152,-5.5 150,-6.3', '150.8,-2.7 153,-4.5 152.5,-4.5', '154.7,-5.5 156,-6.8 155.5,-7'],
  'Solomon Islands': ['158,-7.8 160,-9 159,-8.9', '160.5,-9 161.5,-10.2 161,-10'],
  'Vanuatu': ['167,-15 167.5,-16 166.7,-15.8'],
  'New Caledonia': ['164,-20.2 167,-22.4 166.5,-22.4'],
  'Fiji': ['177.3,-17.5 178.7,-18 178,-18.3'],
  'Philippines': [
    '120.5,18.5 122.2,18.5 121.6,16 122,14.2 124,13 123.8,12.7 121,13.7 120.2,15',
    '122,7 123.5,8.7 125.5,9.8 126.5,7.5 125.5,5.8 124,6.5',
    '117.2,8.4 119.5,11.3 119.3,10.2 117.5,8.2',
    '124.4,12.5 125.7,11.2 125,10.2 124.3,11',
    '122,11.8 123.2,11.5 123.3,9.2 122.5,9.8',
    '120.5,13.5 121.4,13 121,12.3'
  ],
  'Taiwan': ['121,25.2 122,25 120.8,22 120.1,23.2'],
  'Japan': [
    '130.9,34 132.5,35.5 136,35.9 137,37.5 139.5,38.7 140,40.5 140.5,41.4 141.6,41.3 142,39.5 141,37.5 140.8,35.7 139,34.7 137,34.5 135.7,33.4 135,34.4 132.5,34',
    '140,41.5 141.7,45.4 145.3,43.5 143.3,42 141,42.5',
    '130,33.4 131.7,33.6 131.4,31.4 130.2,31.2',
    '132.5,33.7 134.3,34.3 134.5,33.7 133,32.8'
  ],
  'North Korea': ['124.4,40 128,41.5 131,42.8 130.7,42.3 129.7,40.9 127.5,39.8 128.4,38.6 126.7,37.9 125,37.8 125.3,39.5'],
  'South Korea': ['126.7,37.9 128.4,38.6 129.4,37 129.3,35.3 126.5,34.4 126.5,37'],
  'Australia': [
    '113.5,-22 114.2,-26 115,-34.3 118,-35 124,-33 129,-31.6 134,-32.5 135.8,-34.9 137.8,-32.7 137.5,-35.2 139.6,-36 141,-38.2 143.5,-38.8 146.4,-39 150,-37.5 151.3,-33.5 153.5,-28 153,-25 150.8,-23 146.3,-19 145.3,-15 143.5,-14 142.5,-10.8 141.6,-13 141,-17 139.3,-17.5 135.5,-15 136.8,-12.2 131,-12.2 129.5,-15 127,-14 124,-16.5 122,-18 119,-20',
    '144.7,-40.7 148.3,-40.9 148,-43 146,-43.5'
  ],
  'New Zealand': [
    '172.7,-34.5 174.5,-36 175.5,-36.7 176,-37.6 178.5,-37.7 177,-39.5 176,-41 175.2,-41.6 174.8,-41.2 175,-40 173.8,-39.3 174.7,-38 174.5,-37',
    '172.7,-40.5 174.2,-41.7 172.8,-43.7 171,-45 170.5,-46 168.5,-46.6 166.5,-46 168.3,-44 171,-42.5'
  ]
};

// Gall stereographic, scaled to the page
function project(coord) {
  const x = 481.2 + 2.785 * coord[0];
  const y = 423.6 - 385.3 * Math.tan(coord[1] * Math.PI / 360);
  return [x, y];
}

function unproject(point) {
  return [(point[0] - 481.2) / 2.785, Math.atan((423.6 - point[1]) / 385.3) * 360 / Math.PI];
}

function parseRing(text) {
  const ring = text.split(' ').map((pair) => pair.split(',').map(Number));
  ring.push(ring[0]);
  return ring;
}

const features = Object.keys(worldShapes).map((name) => ({
  type: 'Feature',
  properties: {name},
  geometry: {
    type: 'MultiPolygon',
    coordinates: worldShapes[name].map((text) => [parseRing(text)])
  }
}));

// keep the map at page scale: the layout box is the projected extent
let minX = Infinity, minY = Infinity, maxX = -Infinity, maxY = -Infinity;
features.forEach((feature) => {
  feature.geometry.coordinates.forEach((polygon) => {
    polygon[0].forEach((coord) => {
      const [x, y] = project(coord);
      minX = Math.min(minX, x);
      maxX = Math.max(maxX, x);
      minY = Math.min(minY, y);
      maxY = Math.max(maxY, y);
    });
  });
});

echarts.registerMap('world', {type: 'FeatureCollection', features});

const seriesData = [];
classLists.forEach((names, index) => {
  names.forEach((name) => seriesData.push({name, value: index}));
});

const chart = echarts.init(document.getElementById('chart'));
const fontFamily = '"Open Sans", sans-serif';

chart.setOption({
  backgroundColor: '#fff',
  animation: false,
  title: {
    text: 'Overall Energy Self-sufficiency (%) (2019)',
    left: 8,
    top: 19,
    padding: 0,
    textStyle: {fontFamily, fontSize: 26, fontWeight: 300, color: '#333'}
  },
  graphic: [
    {type: 'line', shape: {x1: 0, y1: 56.5, x2: 1024, y2: 56.5}, style: {stroke: '#c4c4c4', lineWidth: 1}},
    {type: 'line', shape: {x1: 0, y1: 652.5, x2: 1024, y2: 652.5}, style: {stroke: '#c4c4c4', lineWidth: 1}},
    {
      type: 'text',
      right: 9,
      top: 629,
      style: {
        text: 'compiled by International Energy Agency (*)',
        fontFamily,
        fontSize: 12,
        fontWeight: 300,
        fill: '#444'
      }
    }
  ],
  visualMap: {
    type: 'piecewise',
    seriesIndex: 0,
    orient: 'horizontal',
    left: 8,
    top: 671,
    padding: 0,
    itemWidth: 15,
    itemHeight: 15,
    itemGap: 25,
    textGap: 10,
    itemSymbol: 'rect',
    selectedMode: false,
    hoverLink: false,
    textStyle: {fontFamily, fontSize: 14, fontWeight: 300, color: '#444'},
    pieces: legendLabels.map((label, index) => ({value: index, label, color: legendColors[index]}))
  },
  series: [{
    type: 'map',
    map: 'world',
    projection: {project, unproject},
    left: minX,
    top: minY,
    width: maxX - minX,
    height: maxY - minY,
    silent: true,
    roam: false,
    label: {show: false},
    emphasis: {disabled: true},
    itemStyle: {areaColor: legendColors[6], borderColor: '#fff', borderWidth: 0.6},
    data: seriesData
  }]
});
</script>
</body>
</html>
